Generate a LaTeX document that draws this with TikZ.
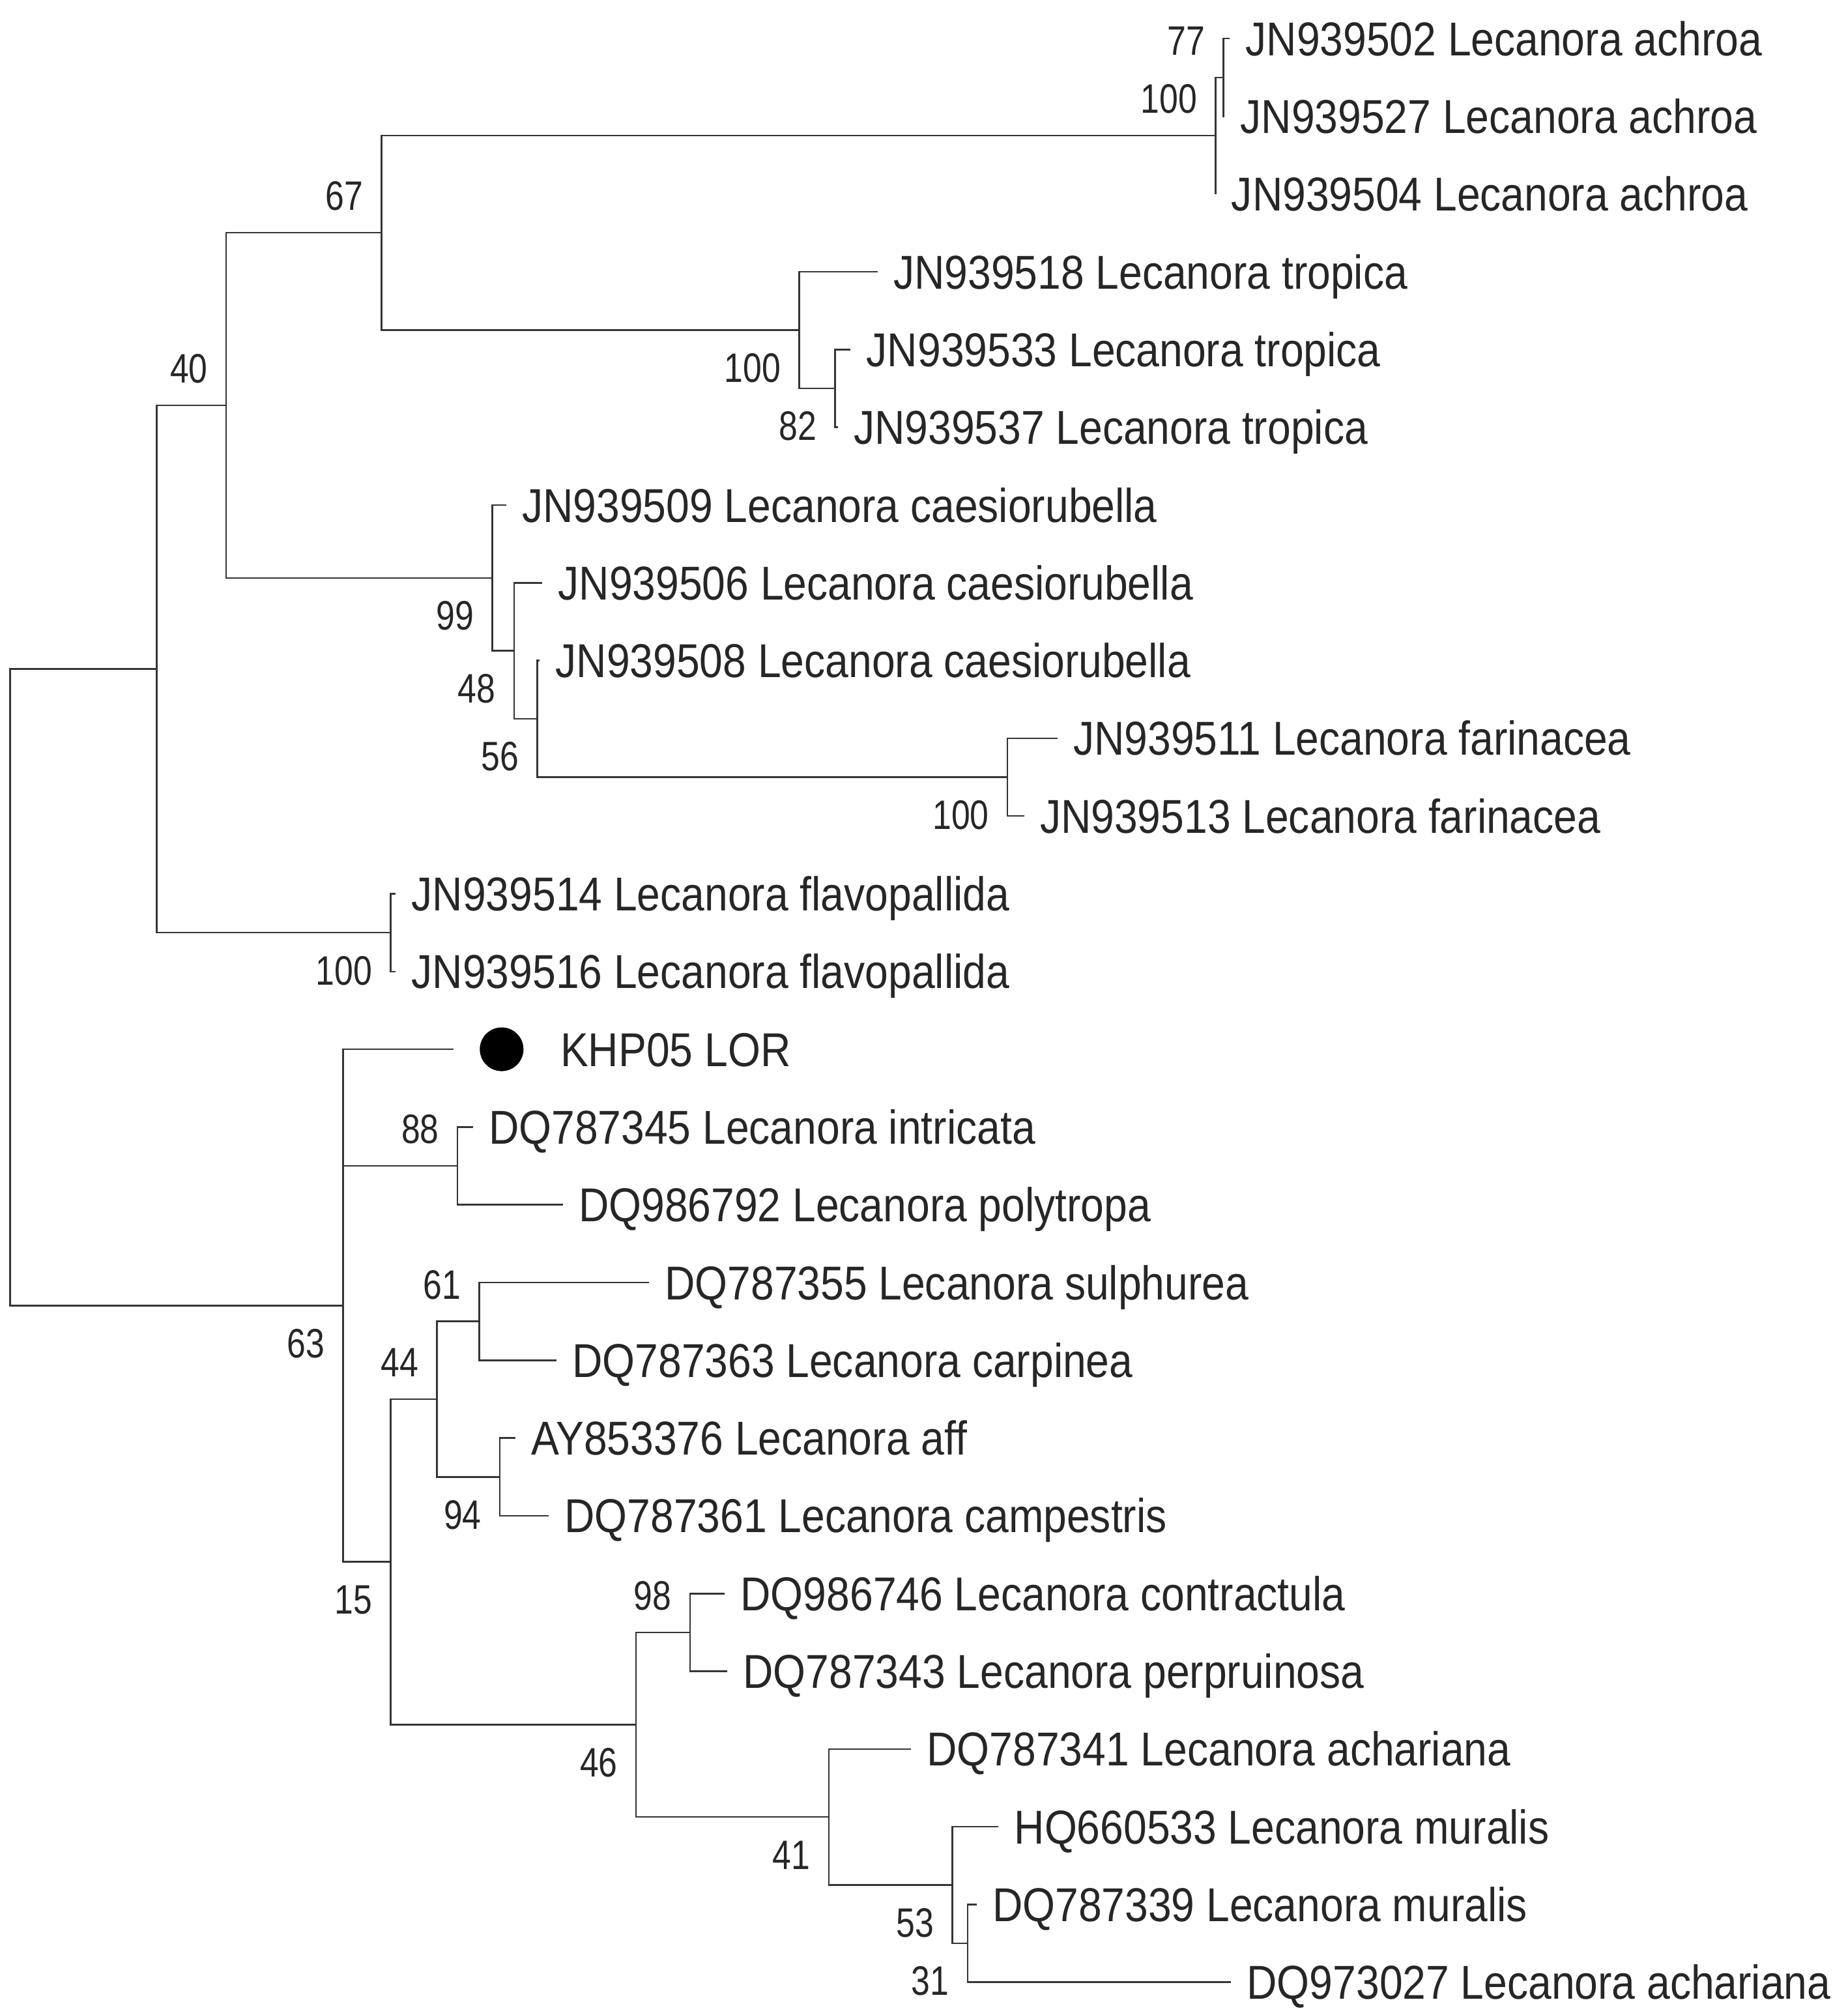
\documentclass[tikz,border=0pt]{standalone}
\usepackage{fontspec}
\newfontfamily\taxonfont[FakeStretch=0.88]{Liberation Sans}
\newfontfamily\supfont[FakeStretch=0.82]{Liberation Sans}
\usepackage{tikz}
\usetikzlibrary{positioning}
\definecolor{branchgray}{HTML}{353535}
\definecolor{labelgray}{HTML}{262626}
\tikzset{
  branch/.style ={draw=branchgray, line width=0.65pt},
  taxon/.style  ={font=\taxonfont\fontsize{18.5}{20}\selectfont, text=labelgray, inner sep=0pt,
                  text height=13.2pt, text depth=0pt},
  bsbase/.style ={font=\supfont\fontsize{16}{18}\selectfont, text=labelgray, inner sep=0pt,
                  text height=11.5pt, text depth=0pt, anchor=east, xshift=-7pt},
  bsup/.style   ={bsbase, yshift=14.5pt},
  bsdown/.style ={bsbase, yshift=-14.5pt},
  tipdot/.style ={circle, fill=black, inner sep=0pt, minimum size=17pt},
}
\begin{document}
\begin{tikzpicture}[x=0.5pt, y=-0.5pt, node distance=6pt]
  \useasboundingbox (0,0) rectangle (1438,1568);
  \coordinate (root)   at (8,768);
  \coordinate (nup)    at (122,520.6);
  \coordinate (n40)    at (176,315.4);
  \coordinate (n67)    at (297,181);
  \coordinate (n100a)  at (946,105.5);
  \coordinate (n77)    at (952,60.25);
  \coordinate (n100t)  at (622,256.75);
  \coordinate (n82)    at (650,302.25);
  \coordinate (n99)    at (383,449.7);
  \coordinate (n48)    at (400,506.4);
  \coordinate (n56)    at (418,559.4);
  \coordinate (n100f)  at (784,604.75);
  \coordinate (n100fl) at (304,725.75);
  \coordinate (n63)    at (267,1016);
  \coordinate (n88)    at (356,907.25);
  \coordinate (n15)    at (304,1215.4);
  \coordinate (n44)    at (340,1088.75);
  \coordinate (n61)    at (373,1028.25);
  \coordinate (n94)    at (389,1149.25);
  \coordinate (n46)    at (495,1342.1);
  \coordinate (n98)    at (537,1270.25);
  \coordinate (n41)    at (645,1413.9);
  \coordinate (n53)    at (741,1466.9);
  \coordinate (n31)    at (753,1512.25);

  \coordinate (t1)  at (957,30);
  \coordinate (t2)  at (953,90.5);
  \coordinate (t3)  at (946,151);
  \coordinate (t4)  at (683,211.5);
  \coordinate (t5)  at (662,272);
  \coordinate (t6)  at (652,332.5);
  \coordinate (t7)  at (394,393);
  \coordinate (t8)  at (422,453.5);
  \coordinate (t9)  at (420,514);
  \coordinate (t10) at (823,574.5);
  \coordinate (t11) at (797,635);
  \coordinate (t12) at (308,695.5);
  \coordinate (t13) at (308,756);
  \coordinate (t14) at (353,816.5);
  \coordinate (t15) at (368,877);
  \coordinate (t16) at (438,937.5);
  \coordinate (t17) at (505,998);
  \coordinate (t18) at (433,1058.5);
  \coordinate (t19) at (401,1119);
  \coordinate (t20) at (427,1179.5);
  \coordinate (t21) at (564,1240);
  \coordinate (t22) at (566,1300.5);
  \coordinate (t23) at (709,1361);
  \coordinate (t24) at (777,1421.5);
  \coordinate (t25) at (760,1482);
  \coordinate (t26) at (958,1542.5);

  \draw[branch] (root) |- (nup) (root) |- (n63);
  \draw[branch] (nup) |- (n40) (nup) |- (n100fl);
  \draw[branch] (n40) |- (n67) (n40) |- (n99);
  \draw[branch] (n67) |- (n100a) (n67) |- (n100t);
  \draw[branch] (n100a) |- (n77) (n100a) |- (t3);
  \draw[branch] (n77) |- (t1) (n77) |- (t2);
  \draw[branch] (n100t) |- (t4) (n100t) |- (n82);
  \draw[branch] (n82) |- (t5) (n82) |- (t6);
  \draw[branch] (n99) |- (t7) (n99) |- (n48);
  \draw[branch] (n48) |- (t8) (n48) |- (n56);
  \draw[branch] (n56) |- (t9) (n56) |- (n100f);
  \draw[branch] (n100f) |- (t10) (n100f) |- (t11);
  \draw[branch] (n100fl) |- (t12) (n100fl) |- (t13);
  \draw[branch] (n63) |- (t14) (n63) |- (n88) (n63) |- (n15);
  \draw[branch] (n88) |- (t15) (n88) |- (t16);
  \draw[branch] (n15) |- (n44) (n15) |- (n46);
  \draw[branch] (n44) |- (n61) (n44) |- (n94);
  \draw[branch] (n61) |- (t17) (n61) |- (t18);
  \draw[branch] (n94) |- (t19) (n94) |- (t20);
  \draw[branch] (n46) |- (n98) (n46) |- (n41);
  \draw[branch] (n98) |- (t21) (n98) |- (t22);
  \draw[branch] (n41) |- (t23) (n41) |- (n53);
  \draw[branch] (n53) |- (t24) (n53) |- (n31);
  \draw[branch] (n31) |- (t25) (n31) |- (t26);

  \node[taxon, right=of t1]  (s1)  {JN939502 Lecanora achroa};
  \node[taxon, right=of t2]  (s2)  {JN939527 Lecanora achroa};
  \node[taxon, right=of t3]  (s3)  {JN939504 Lecanora achroa};
  \node[taxon, right=of t4]  (s4)  {JN939518 Lecanora tropica};
  \node[taxon, right=of t5]  (s5)  {JN939533 Lecanora tropica};
  \node[taxon, right=of t6]  (s6)  {JN939537 Lecanora tropica};
  \node[taxon, right=of t7]  (s7)  {JN939509 Lecanora caesiorubella};
  \node[taxon, right=of t8]  (s8)  {JN939506 Lecanora caesiorubella};
  \node[taxon, right=of t9]  (s9)  {JN939508 Lecanora caesiorubella};
  \node[taxon, right=of t10] (s10) {JN939511 Lecanora farinacea};
  \node[taxon, right=of t11] (s11) {JN939513 Lecanora farinacea};
  \node[taxon, right=of t12] (s12) {JN939514 Lecanora flavopallida};
  \node[taxon, right=of t13] (s13) {JN939516 Lecanora flavopallida};
  \node[tipdot, right=10pt of t14] (khpdot) {};
  \node[taxon, right=14pt of khpdot] (s14) {KHP05 LOR};
  \node[taxon, right=of t15] (s15) {DQ787345 Lecanora intricata};
  \node[taxon, right=of t16] (s16) {DQ986792 Lecanora polytropa};
  \node[taxon, right=of t17] (s17) {DQ787355 Lecanora sulphurea};
  \node[taxon, right=of t18] (s18) {DQ787363 Lecanora carpinea};
  \node[taxon, right=of t19] (s19) {AY853376 Lecanora aff};
  \node[taxon, right=of t20] (s20) {DQ787361 Lecanora campestris};
  \node[taxon, right=of t21] (s21) {DQ986746 Lecanora contractula};
  \node[taxon, right=of t22] (s22) {DQ787343 Lecanora perpruinosa};
  \node[taxon, right=of t23] (s23) {DQ787341 Lecanora achariana};
  \node[taxon, right=of t24] (s24) {HQ660533 Lecanora muralis};
  \node[taxon, right=of t25] (s25) {DQ787339 Lecanora muralis};
  \node[taxon, right=of t26] (s26) {DQ973027 Lecanora achariana};

  \node[bsup]   (b77)   at (n77)    {77};
  \node[bsup]   (b100a) at (n100a)  {100};
  \node[bsup]   (b67)   at (n67)    {67};
  \node[bsup]   (b40)   at (n40)    {40};
  \node[bsdown] (b100t) at (n100t)  {100};
  \node[bsdown] (b82)   at (n82)    {82};
  \node[bsdown] (b99)   at (n99)    {99};
  \node[bsdown] (b48)   at (n48)    {48};
  \node[bsdown] (b56)   at (n56)    {56};
  \node[bsdown] (b100f) at (n100f)  {100};
  \node[bsdown] (b100l) at (n100fl) {100};
  \node[bsup]   (b88)   at (n88)    {88};
  \node[bsdown] (b63)   at (n63)    {63};
  \node[bsup]   (b61)   at (n61)    {61};
  \node[bsup]   (b44)   at (n44)    {44};
  \node[bsdown] (b94)   at (n94)    {94};
  \node[bsdown] (b15)   at (n15)    {15};
  \node[bsup]   (b98)   at (n98)    {98};
  \node[bsdown] (b46)   at (n46)    {46};
  \node[bsdown] (b41)   at (n41)    {41};
  \node[bsdown] (b53)   at (n53)    {53};
  \node[bsdown] (b31)   at (n31)    {31};
\end{tikzpicture}
\end{document}
